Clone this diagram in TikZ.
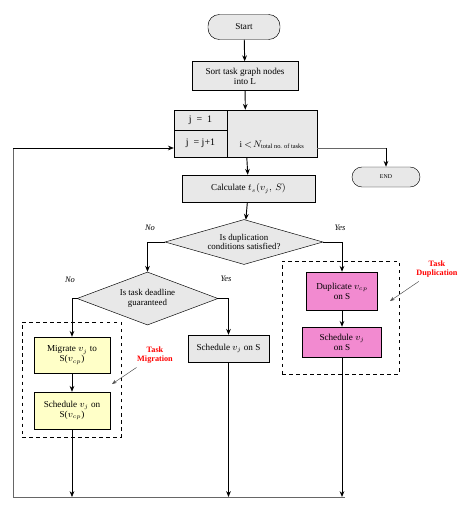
\documentclass[tikz,border=0pt]{standalone}
\usepackage{amsmath}
\usepackage{fontspec}
\setmainfont{Liberation Serif}
\usepackage{tikz}
\usetikzlibrary{positioning,shapes.geometric,arrows.meta}
\definecolor{boxgray}{RGB}{232,232,232}
\definecolor{migyellow}{RGB}{255,255,200}
\definecolor{duppink}{RGB}{242,138,208}

\begin{document}
\begin{tikzpicture}[
    x=0.03cm, y=-0.03cm,
    font=\fontsize{7.8}{8.6}\selectfont,
    box/.style={rectangle, draw, fill=boxgray, align=center, inner sep=1pt},
    term/.style={rectangle, rounded corners=0.34cm, draw, fill=boxgray, align=center},
    decision/.style={diamond, shape aspect=3.4, draw, fill=boxgray, align=center, inner sep=0pt, font=\fontsize{7.6}{8.4}\selectfont},
    group/.style={rectangle, draw, dashed, thick},
    note/.style={align=center, text=red, font=\fontsize{7}{7.8}\selectfont\bfseries},
    ans/.style={font=\fontsize{7.2}{8}\selectfont\itshape},
    arrow/.style={-{Stealth[length=5pt,width=4pt]}, thick},
    thinarrow/.style={-{Stealth[length=5pt,width=4pt]}, semithick},
    pointer/.style={-{Stealth[length=4pt,width=3pt]}, thin, black!70}
]
    \useasboundingbox (0,0) rectangle (474,505);

    % Groups
    \node[group, minimum width=2.97cm, minimum height=3.45cm] (miggroup) at (71.5,379.5) {};
    \node[group, minimum width=3.51cm, minimum height=3.39cm] (dupgroup) at (340.5,317.5) {};

    % Nodes
    \node[term, minimum width=2.16cm, minimum height=0.75cm] (start) at (244,27) {Start};
    \node[box, minimum width=3.18cm, minimum height=0.87cm] (sort) at (245,76) {Sort task graph nodes\\into L};
    \node[box, minimum width=4.29cm, minimum height=1.41cm] (loop) at (245.5,133.5) {};
    \node[box, minimum width=1.59cm, minimum height=0.6cm, font=\fontsize{8.5}{9.5}\selectfont] (jinit) at (200.5,120) {j\ \ =\ \ 1};
    \node[box, minimum width=1.59cm, minimum height=0.81cm, font=\fontsize{8.5}{9.5}\selectfont] (jinc) at (200.5,143.5) {j\ \ = j+1};
    \node (cond) at (272,145) {i $<\!N_{\text{total no. of tasks}}$};
    \node[term, rounded corners=0.3cm, minimum width=2.04cm, minimum height=0.6cm, font=\fontsize{5}{6}\selectfont] (end) at (386,177) {END};
    \node[box, minimum width=3.99cm, minimum height=0.81cm] (calc) at (248.5,188.5) {Calculate $t_s(v_j,\,S)$};
    \node[decision, minimum width=4.74cm, minimum height=1.35cm] (dup) at (244,242) {Is duplication\\conditions satisfied?};
    \node[decision, shape aspect=2.7, minimum width=4.23cm, minimum height=1.59cm] (dl) at (147.5,298.5) {Is task deadline\\guaranteed};
    \node[box, fill=migyellow, minimum width=2.28cm, minimum height=1.08cm] (migrate) at (72,355) {Migrate $v_j$ to\\S($v_{cp}$)};
    \node[box, fill=migyellow, minimum width=2.28cm, minimum height=1.11cm] (schedmig) at (72,410.5) {Schedule $v_j$ on\\S($v_{cp}$)};
    \node[box, minimum width=2.43cm, minimum height=0.81cm] (schedlocal) at (228.5,348.5) {Schedule $v_j$ on S};
    \node[box, fill=duppink, minimum width=2.13cm, minimum height=1.14cm] (duplicate) at (342,291) {Duplicate $v_{cp}$\\on S};
    \node[box, fill=duppink, minimum width=2.37cm, minimum height=0.9cm] (scheddup) at (342,342) {Schedule $v_j$\\on S};

    % Labels
    \node[ans] (dupno) at (150,228) {No};
    \node[ans] (dupyes) at (340,228) {Yes};
    \node[ans] (dlno) at (70,280) {No};
    \node[ans] (dlyes) at (226,279) {Yes};
    \node[note] (miglabel) at (155,355) {Task\\Migration};
    \node[note] (duplabel) at (437,269) {Task\\Duplication};
    \coordinate (migtip) at (112,384);
    \coordinate (duptip) at (390,301);

    % Loop corners
    \coordinate (back) at (13,148);
    \coordinate (bl) at (13,497);
    \coordinate (br) at (345,497);

    % Arrows
    \draw[arrow] (start) -- (sort);
    \draw[arrow] (sort) -- (loop);
    \draw[arrow] (loop) -- (calc);
    \draw[black!60] (loop.east |- back) -- (back -| end);
    \draw[arrow] (back -| end) -- (end);
    \draw[arrow] (calc) -- (dup);
    \draw[arrow] (dup.west) -| (dl.north);
    \draw[arrow] (dup.east) -| (duplicate.north);
    \draw[arrow] (dl.west) -| (migrate.north);
    \draw[arrow] (dl.east) -| (schedlocal.north);
    \draw[thinarrow] (migrate) -- (schedmig);
    \draw[arrow] (duplicate) -- (scheddup);
    \draw[thinarrow] (schedmig) -- (schedmig |- br);
    \draw[arrow] (schedlocal) -- (schedlocal |- br);
    \draw[arrow] (scheddup) -- (scheddup |- br);
    \draw[black!60, semithick] (br) -- (bl) -- (back);
    \draw[thinarrow] (back) -- (back -| loop.west);
    \draw[pointer] (miglabel) -- (migtip);
    \draw[pointer] (duplabel) -- (duptip);
\end{tikzpicture}
\end{document}
